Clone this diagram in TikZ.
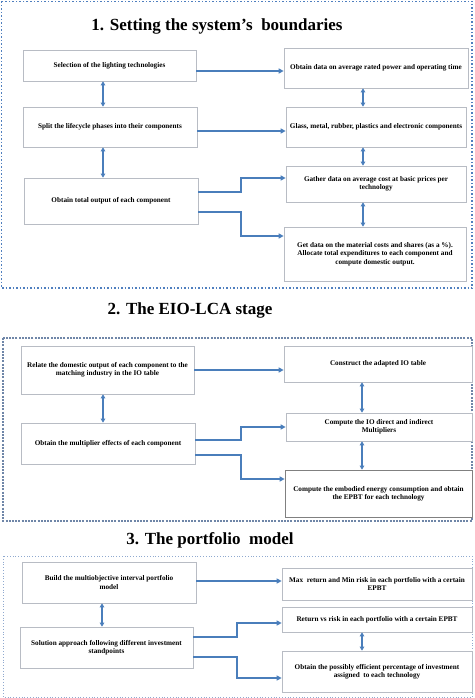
\documentclass[tikz,border=0pt]{standalone}
\usepackage{fontspec}
\setmainfont{Liberation Serif}
\usetikzlibrary{arrows.meta}
\definecolor{arrblue}{HTML}{4A7EBB}
\definecolor{framea}{HTML}{4F7FBF}
\definecolor{frameb}{HTML}{6F86A8}
\definecolor{framec}{HTML}{8FA9CF}
\definecolor{boxgray}{HTML}{B8BCC4}
\tikzset{
  box/.style={draw=boxgray, line width=0.7pt, fill=white, align=center, inner sep=2pt,
    font=\fontsize{7.2}{8.4}\selectfont\bfseries},
  arr/.style={draw=arrblue, line width=1.8pt, -{Triangle[length=5pt,width=5pt]}},
  darr/.style={draw=arrblue, line width=1.4pt, {Triangle[length=4pt,width=4.5pt]}-{Triangle[length=4pt,width=4.5pt]}},
  ttl/.style={font=\fontsize{17}{19}\selectfont\bfseries},
}
\begin{document}
\begin{tikzpicture}[x=1pt,y=-1pt]
\useasboundingbox (0,0) rectangle (474,698);
% frames
\draw[framea, line width=1.5pt, dotted] (1.5,1.5) rectangle (472,288);
\draw[frameb, line width=1.2pt, dash pattern=on 2pt off 1.2pt] (3,338) rectangle (472,521);
\draw[framec, line width=0.8pt, dotted] (3,556) rectangle (472,697);
% titles
\node[ttl] (t1) at (217,26) {1. Setting the system’s\ \ boundaries};
\node[ttl] (t2) at (190,310) {2. The EIO-LCA stage};
\node[ttl] (t3) at (210,540) {3. The portfolio\ \ model};
% section 1
\node[box, minimum width=173pt, minimum height=31pt] (a1) at (109.5,65.5) {Selection of the lighting technologies};
\node[box, minimum width=174pt, minimum height=40pt] (a2) at (110,127) {Split the lifecycle phases into their components};
\node[box, minimum width=174pt, minimum height=46pt] (a3) at (111,201) {Obtain total output of each component};
\node[box, minimum width=184pt, minimum height=40pt] (b1) at (376,68) {Obtain data on average\ rated power and operating time};
\node[box, minimum width=180pt, minimum height=40pt] (b2) at (376,127) {Glass, metal, rubber, plastics and electronic components};
\node[box, minimum width=180pt, minimum height=36pt] (b3) at (376,184) {Gather data on average\ cost at basic prices per\\technology};
\node[box, minimum width=182pt, minimum height=54pt] (b4) at (375,254) {Get data on the material costs and shares (as a \%).\\Allocate total expenditures to each component and\\compute domestic output.};
\draw[arr] (a1.east |- {(0,71)}) -- (b1.west |- {(0,71)});
\draw[arr] (a2.east |- {(0,131)}) -- (b2.west |- {(0,131)});
\draw[arr] (a3.east |- {(0,192)}) -- (241,192) |- (b3.west |- {(0,178)});
\draw[arr] (a3.east |- {(0,212)}) -- (241,212) |- (b4.west |- {(0,236)});
\draw[darr] (a1.south -| {(103,0)}) -- (a2.north -| {(103,0)});
\draw[darr] (a2.south -| {(103,0)}) -- (a3.north -| {(103,0)});
\draw[darr] (b1.south -| {(363,0)}) -- (b2.north -| {(363,0)});
\draw[darr] (b2.south -| {(363,0)}) -- (b3.north -| {(363,0)});
\draw[darr] (b3.south -| {(363,0)}) -- (b4.north -| {(363,0)});
% section 2
\node[box, minimum width=173pt, minimum height=48pt] (c1) at (107.5,370) {Relate the domestic output of each component to the\\matching industry in the IO table};
\node[box, minimum width=174pt, minimum height=41pt] (c2) at (108,443.5) {Obtain the multiplier effects of each component};
\node[box, minimum width=188pt, minimum height=36pt] (d1) at (378,364) {Construct the adapted IO table};
\node[box, minimum width=186pt, minimum height=28pt] (d2) at (379,427) {Compute the IO direct and indirect\\Multipliers};
\node[box, draw=gray, minimum width=187pt, minimum height=47pt] (d3) at (378.5,493.5) {Compute the embodied energy consumption\ and obtain\\the EPBT for each technology};
\draw[arr] (c1.east |- {(0,370)}) -- (d1.west |- {(0,370)});
\draw[arr] (c2.east |- {(0,440)}) -- (241,440) |- (d2.west |- {(0,427)});
\draw[arr] (c2.east |- {(0,455)}) -- (241,455) |- (d3.west |- {(0,479)});
\draw[darr] (c1.south -| {(103,0)}) -- (c2.north -| {(103,0)});
\draw[darr] (d1.south -| {(362,0)}) -- (d2.north -| {(362,0)});
\draw[darr] (d2.south -| {(362,0)}) -- (d3.north -| {(362,0)});
% section 3
\node[box, minimum width=174pt, minimum height=41pt] (e1) at (109,582.5) {Build the multiobjective interval portfolio\\model};
\node[box, minimum width=173pt, minimum height=41pt] (e2) at (106.5,647.5) {Solution approach following different investment\\standpoints};
\node[box, minimum width=190pt, minimum height=32pt] (f1) at (377,584) {Max\ \ return and Min risk in each portfolio with a certain\\EPBT};
\node[box, minimum width=190pt, minimum height=25pt] (f2) at (377,619.5) {Return vs risk\ in each portfolio with a certain EPBT};
\node[box, minimum width=190pt, minimum height=41pt] (f3) at (377,671.5) {Obtain the possibly efficient percentage of investment\\assigned\ \ to each technology};
\draw[arr] (e1.east |- {(0,581)}) -- (f1.west |- {(0,581)});
\draw[arr] (e2.east |- {(0,637)}) -- (237,637) |- (f2.west |- {(0,623)});
\draw[arr] (e2.east |- {(0,657)}) -- (237,657) |- (f3.west |- {(0,678)});
\draw[darr] (e1.south -| {(102,0)}) -- (e2.north -| {(102,0)});
\draw[darr] (f2.south -| {(362,0)}) -- (f3.north -| {(362,0)});
\end{tikzpicture}
\end{document}
